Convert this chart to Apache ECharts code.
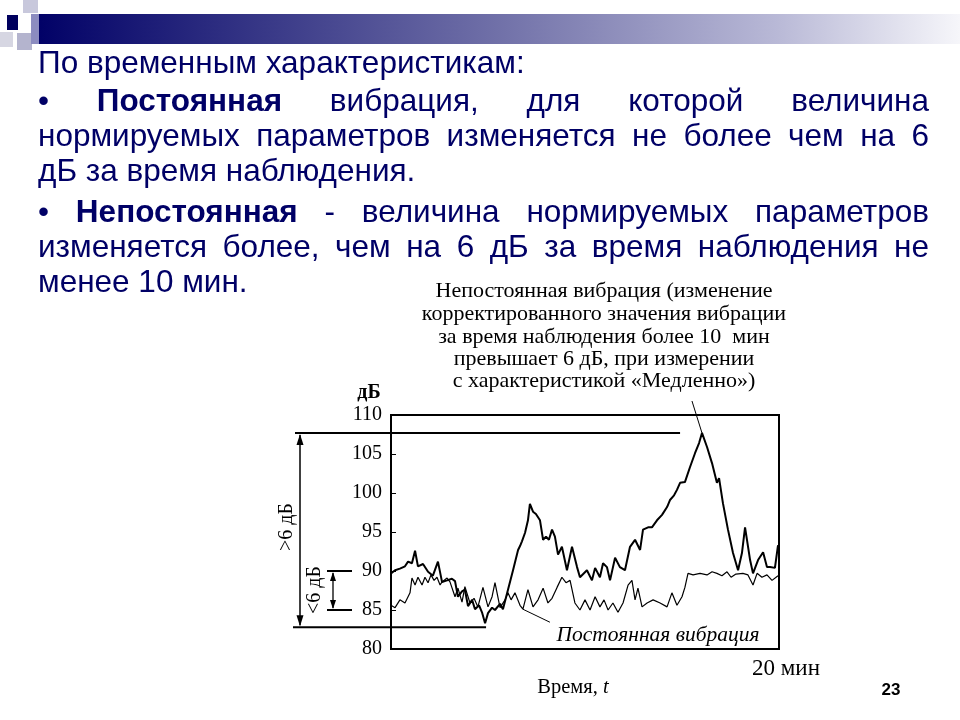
<!DOCTYPE html>
<html><head><meta charset="utf-8">
<script src="https://cdn.jsdelivr.net/npm/echarts@6/dist/echarts.min.js"></script>
<style>html,body{margin:0;padding:0;background:#fff}#c{width:960px;height:720px}</style>
</head><body><div id="c"></div>
<script>
// ---------- data ----------
const unsteadyT = [0,0.21,0.46,0.72,0.88,1.08,1.24,1.39,1.65,1.91,2.16,2.42,2.63,2.89,3.14,3.30,3.45,3.66,3.81,3.97,4.18,4.33,4.54,4.69,4.85,5.0,5.21,5.36,5.62,5.77,6.03,6.29,6.55,6.65,6.75,6.91,7.06,7.16,7.32,7.47,7.68,7.84,7.99,8.14,8.30,8.45,8.61,8.81,9.07,9.33,9.59,9.74,10.1,10.36,10.52,10.77,10.93,11.13,11.29,11.55,11.80,12.06,12.32,12.58,12.84,12.99,13.25,13.45,13.71,13.97,14.23,14.38,14.59,14.74,14.90,15.15,15.41,15.67,15.88,16.03,16.29,16.55,16.70,16.80,16.91,17.11,17.37,17.63,17.89,18.09,18.25,18.51,18.66,18.92,19.18,19.38,19.54,19.79,19.95];
const unsteadyV = [89.7,90.1,90.3,90.6,91.2,91.0,92.6,90.6,90.9,89.9,89.4,91.2,88.6,88.8,89.0,88.7,86.7,87.4,87.6,85.5,86.3,85.1,85.6,84.7,83.3,84.6,85.3,85.0,85.8,85.1,87.6,90.1,92.7,93.2,93.8,94.9,96.5,98.6,97.6,97.3,96.5,94.0,94.4,94.0,95.3,94.4,92.1,93.1,90.1,93.1,90.5,89.2,90.1,88.8,90.4,89.2,91.0,90.5,88.8,91.7,90.5,90.1,93.1,94.0,92.7,95.3,95.6,95.6,96.5,97.2,98.2,99.1,99.7,100.4,101.3,101.4,103.3,105.1,106.4,107.7,105.9,103.8,102.3,101.3,101.9,98.7,95.3,92.3,90.1,92.3,95.6,91.4,89.7,91.4,92.4,90.5,90.5,90.4,93.3];
const steadyT = [0,0.21,0.46,0.72,0.98,1.08,1.24,1.39,1.6,1.75,1.91,2.06,2.22,2.37,2.53,2.63,2.89,3.04,3.30,3.45,3.66,3.81,4.07,4.28,4.48,4.74,5.0,5.21,5.36,5.62,5.88,6.03,6.19,6.39,6.65,6.80,7.06,7.32,7.58,7.84,8.09,8.30,8.56,8.81,9.02,9.23,9.48,9.74,10.0,10.26,10.52,10.77,10.98,11.19,11.44,11.70,11.96,12.22,12.42,12.58,12.73,12.94,13.20,13.51,13.87,14.23,14.48,14.74,15.0,15.15,15.31,15.57,15.93,16.29,16.55,16.80,17.06,17.32,17.53,17.78,18.14,18.40,18.66,18.87,19.12,19.38,19.64,19.95];
const steadyV = [85.6,85.3,86.3,85.9,87.2,89.1,88.2,89.2,88.2,89.2,88.5,89.5,88.8,89.2,88.2,88.6,89.1,88.6,86.7,87.8,86.0,88.0,85.9,86.5,85.4,87.9,85.4,86.7,88.5,85.3,86.3,87.2,86.3,87.2,85.6,85.1,87.6,85.4,86.3,87.8,85.9,86.5,87.9,89.2,88.5,88.8,85.9,85.0,86.3,85.0,86.7,85.4,86.3,85.0,85.9,84.7,85.9,88.2,88.8,86.3,87.8,85.4,85.9,86.3,85.9,85.4,87.2,85.6,86.7,87.9,89.7,89.5,89.7,89.5,89.9,89.7,89.4,89.9,89.2,89.6,89.7,89.5,88.2,89.7,89.2,89.5,88.8,89.4];
const yMin = 80, yMax = 110, yStep = 5;
const xMin = 0, xMax = 20, xStep = 5;
const xEndLabel = '20 мин';
const yName = 'дБ';
const xName = ['Время, ', 't'];
const refLevels = [107.7, 82.8];      // upper / lower envelope levels (dB)
const refEndT = [14.9, 4.9];          // where the guide lines end (min)
const smallBand = [90, 85];           // "<6 дБ" band
const bigLabel = '>6 дБ', smallLabel = '<6 дБ';
const steadyLabel = 'Постоянная вибрация';
const steadyLeaderT = 6.8, steadyLeaderV = 85.1;
const noteLines = ['Непостоянная вибрация (изменение','корректированного значения вибрации','за время наблюдения более 10  мин','превышает 6 дБ, при измерении','с характеристикой «Медленно»)'];
const bodyLines = [
  'По временным характеристикам:',
  '• **Постоянная** вибрация, для которой величина',
  'нормируемых параметров изменяется не более чем на 6',
  'дБ за время наблюдения.',
  '• **Непостоянная** - величина нормируемых параметров',
  'изменяется более, чем на 6 дБ за время наблюдения не',
  'менее 10 мин.'
];
const bodyJustify = [false,true,true,false,true,true,false];
const slideNo = '23';

// ---------- chart ----------
const chart = echarts.init(document.getElementById('c'));
const SERIF = '"Liberation Serif","DejaVu Serif",serif';
const SANS = '"Liberation Sans",Arial,sans-serif';
const zip = (a,b) => a.map((t,i)=>[t,b[i]]);

chart.setOption({
  animation:false,
  backgroundColor:'#fff',
  grid:{left:391, top:415, width:388, height:234, show:true, borderColor:'#000', borderWidth:2, backgroundColor:'transparent'},
  xAxis:{type:'value', min:xMin, max:xMax, interval:xStep,
    axisLine:{lineStyle:{color:'#000', width:2}}, axisTick:{show:false}, splitLine:{show:false},
    axisLabel:{color:'#000', fontFamily:SERIF, fontSize:23, margin:8, padding:[0,0,0,14],
      formatter:v => v===xMax ? xEndLabel : ''}},
  yAxis:{type:'value', min:yMin, max:yMax, interval:yStep,
    axisLine:{show:true, lineStyle:{color:'#000', width:2}},
    axisTick:{show:true, inside:true, length:5, lineStyle:{color:'#000', width:1}},
    splitLine:{show:false},
    axisLabel:{color:'#000', fontFamily:SERIF, fontSize:20, margin:9}},
  series:[
    {type:'line', data:zip(steadyT, steadyV), showSymbol:false, lineStyle:{color:'#000', width:1.2}, z:3},
    {type:'line', data:zip(unsteadyT, unsteadyV), showSymbol:false, lineStyle:{color:'#000', width:2}, z:4}
  ]
});

// ---------- overlays ----------
const px = (t,v) => chart.convertToPixel({gridIndex:0}, [t,v]);
const cv = document.createElement('canvas').getContext('2d');
const G = [];
const txt = (o) => G.push(Object.assign({type:'text', silent:true}, o));
const line = (pts, w, extra) => G.push({type:'polyline', silent:true, shape:{points:pts}, style:Object.assign({stroke:'#000', lineWidth:w, fill:null}, extra||{})});
const tri = (pts) => G.push({type:'polygon', silent:true, shape:{points:pts}, style:{fill:'#000'}});
const C = {align:'center', verticalAlign:'middle', textAlign:'center', textVerticalAlign:'middle'};

// header decoration
G.push({type:'rect', silent:true, shape:{x:33,y:14,width:927,height:30},
  style:{fill:new echarts.graphic.LinearGradient(0,0,1,0,[{offset:0,color:'#000066'},{offset:0.5,color:'#7070a8'},{offset:0.8,color:'#b8b8d6'},{offset:1,color:'#f6f6fa'}])}});
[[23,0,15,13,'#c8c8dc'],[7,15,11,15,'#00005e'],[0,32,13,15,'#d6d6e2'],[17,33,15,17,'#b4b4ce'],[31,14,8,30,'#8c8cc0']].forEach(r=>{
  G.push({type:'rect', silent:true, shape:{x:r[0],y:r[1],width:r[2],height:r[3]}, style:{fill:r[4]}});
});

// body text
const FS = 31.5, X0 = 38, X1 = 929;
const centers = [64,102,137,172,213,248,283];
bodyLines.forEach((ln, i) => {
  const words = ln.split(' ').map(w => {
    const b = w.startsWith('**');
    return {t: w.replace(/\*\*/g,''), b};
  });
  words.forEach(w => { cv.font = (w.b?'bold ':'') + FS + 'px ' + SANS; w.w = cv.measureText(w.t).width; });
  cv.font = FS + 'px ' + SANS;
  const sp = cv.measureText(' ').width;
  const tot = words.reduce((s,w)=>s+w.w,0);
  const gap = bodyJustify[i] ? (X1 - X0 - tot)/(words.length-1) : sp;
  let x = X0;
  words.forEach(w => {
    txt({x:x, y:centers[i], style:{text:w.t, fontSize:FS, fontFamily:SANS, fontWeight:w.b?'bold':'normal', fill:'#000066', align:'left', verticalAlign:'middle', textAlign:'left', textVerticalAlign:'middle'}});
    x += w.w + gap;
  });
});

// annotation note
const noteY = [291,314,337,359,381];
noteLines.forEach((l,i)=>txt({x:604, y:noteY[i], style:Object.assign({text:l, fontSize:22, fontFamily:SERIF, fill:'#000'}, C)}));

// peak leader
let pk = 0; unsteadyV.forEach((v,i)=>{ if (v>unsteadyV[pk]) pk=i; });
const pP = px(unsteadyT[pk], unsteadyV[pk]);
line([[pP[0]-10, 401],[pP[0], pP[1]]], 1);

// y name
txt({x:369, y:393, style:Object.assign({text:yName, fontSize:20, fontFamily:SERIF, fontWeight:'bold', fill:'#000'}, C)});

// x name
txt({x:573, y:688, style:Object.assign({rich:{a:{fontSize:20.5, fontFamily:SERIF, fill:'#000'}, b:{fontSize:20.5, fontFamily:SERIF, fontStyle:'italic', fill:'#000'}},
  text:'{a|'+xName[0]+'}{b|'+xName[1]+'}'}, C)});

// reference lines
const yHi = px(0, refLevels[0])[1], yLo = px(0, refLevels[1])[1];
line([[295, yHi],[px(refEndT[0], refLevels[0])[0], yHi]], 2);
line([[293, yLo],[px(refEndT[1], refLevels[1])[0], yLo]], 2);
// big arrow
const AX = 300;
line([[AX, yHi+2],[AX, yLo-2]], 1.5);
tri([[AX, yHi+1],[AX-3.5, yHi+12],[AX+3.5, yHi+12]]);
tri([[AX, yLo-1],[AX-3.5, yLo-12],[AX+3.5, yLo-12]]);
txt({x:287, y:527, rotation:Math.PI/2, style:Object.assign({text:bigLabel, fontSize:20, fontFamily:SERIF, fill:'#000'}, C)});
// small band
const ys1 = px(0, smallBand[0])[1], ys2 = px(0, smallBand[1])[1];
line([[327, ys1],[352, ys1]], 2);
line([[327, ys2],[352, ys2]], 2);
const SX = 333;
line([[SX, ys1+2],[SX, ys2-2]], 1.3);
tri([[SX, ys1+1],[SX-3, ys1+10],[SX+3, ys1+10]]);
tri([[SX, ys2-1],[SX-3, ys2-10],[SX+3, ys2-10]]);
txt({x:315, y:590, rotation:Math.PI/2, style:Object.assign({text:smallLabel, fontSize:20, fontFamily:SERIF, fill:'#000'}, C)});

// steady label
const sP = px(steadyLeaderT, steadyLeaderV);
line([[sP[0], sP[1]],[sP[0]+27, sP[1]+13]], 1);
txt({x:658, y:635, style:Object.assign({text:steadyLabel, fontSize:21.5, fontFamily:SERIF, fontStyle:'italic', fill:'#000'}, C)});

// slide number
txt({x:891, y:690, style:Object.assign({text:slideNo, fontSize:17, fontFamily:SANS, fontWeight:'bold', fill:'#000'}, C)});

chart.setOption({graphic:{elements:G}});
</script></body></html>
